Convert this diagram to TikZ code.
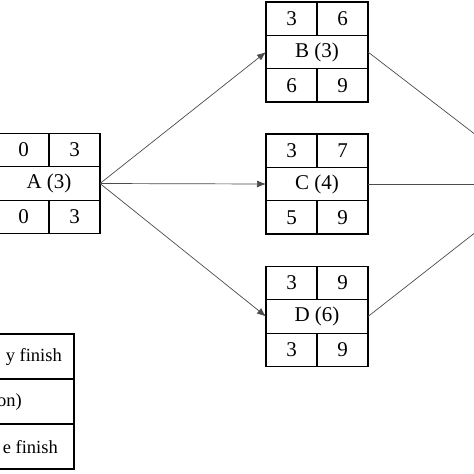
\documentclass[tikz,border=0pt]{standalone}
\usepackage{fontspec}
\setmainfont{Liberation Serif}
\usetikzlibrary{arrows.meta}

\tikzset{
	actmid/.style={draw=black,line width=1.3pt,minimum width=102pt,minimum height=33.4pt,inner sep=0pt,outer sep=0pt},
	actcell/.style={draw=black,line width=1.3pt,minimum width=51pt,minimum height=33.4pt,inner sep=0pt,outer sep=0pt},
	link/.style={draw=black!70,line width=0.7pt},
	linkarr/.style={link,-{Latex[length=9pt,width=7pt]}},
	legtext/.style={anchor=east,inner sep=0pt,font=\fontsize{18.5}{22}\selectfont}
}

\begin{document}
\begin{tikzpicture}[x=1pt,y=-1pt,font=\fontsize{21}{24}\selectfont]
						\useasboundingbox[fill=white] (0,0) rectangle (474,474);
						% activity boxes: name/x/y/ES/EF/label/LS/LF
						\foreach \n/\x/\y/\es/\ef/\lbl/\ls/\lf in {A/49/183.5/0/3/A (3)/0/3, B/317/52/3/6/B (3)/6/9, C/317/184/3/7/C (4)/5/9, D/317/316.5/3/9/D (6)/3/9}
						{
						\node[actmid] (\n) at (\x,\y) {\lbl};
						\node[actcell,anchor=south east] (\n-es) at (\n.north) {\es};
						\node[actcell,anchor=south west] (\n-ef) at (\n.north) {\ef};
						\node[actcell,anchor=north east] (\n-ls) at (\n.south) {\ls};
						\node[actcell,anchor=north west] (\n-lf) at (\n.south) {\lf};
						}
						% lines running off to the right
						\coordinate (E1) at (474,133.5);
						\coordinate (E2) at (474,184);
						\coordinate (E3) at (474,233.5);
						\draw[linkarr] (A.east) -- (B.west);
						\draw[linkarr] (A.east) -- (C.west);
						\draw[linkarr] (A.east) -- (D.west);
						\draw[link] (B.east) -- (E1);
						\draw[link] (C.east) -- (E2);
						\draw[link] (D.east) -- (E3);
						% legend
						\draw[line width=1.3pt] (-10,334) rectangle (74,379);
						\draw[line width=1.3pt] (-10,379) rectangle (74,424);
						\draw[line width=1.3pt] (-10,424) rectangle (74,469);
						\node[legtext] (leg1) at (62,357) {y finish};
						\node[legtext] (leg2) at (22,402) {on)};
						\node[legtext] (leg3) at (58,447) {e finish};
					\end{tikzpicture}
\end{document}
